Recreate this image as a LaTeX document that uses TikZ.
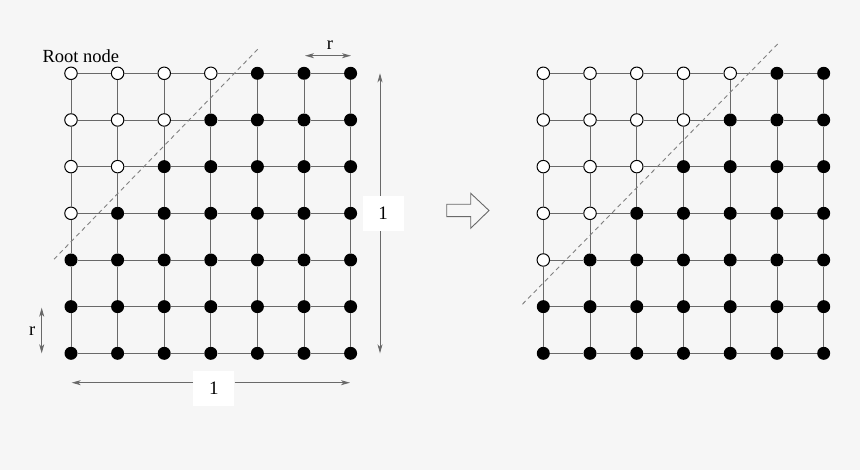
\documentclass[tikz,border=0pt]{standalone}
\usepackage{fontspec}
\setmainfont{Liberation Serif}
\usetikzlibrary{arrows.meta}
\definecolor{bg}{RGB}{246,246,246}
\definecolor{gline}{RGB}{105,105,105}
\tikzset{
  gridline/.style={draw=gline, line width=0.9pt},
  hollownode/.style={circle, draw=black, fill=white, line width=1pt, minimum size=12.5pt, inner sep=0pt},
  fullnode/.style={circle, fill=black, minimum size=13pt, inner sep=0pt},
  cutline/.style={draw=gray, line width=0.9pt, dash pattern=on 4.5pt off 3.5pt},
  dimline/.style={draw=gline, line width=0.9pt},
  dimtip/.style={-{Stealth[length=9pt,width=5pt,inset=2.5pt]}},
  dimboth/.style={{Stealth[length=9pt,width=5pt,inset=2.5pt]}-{Stealth[length=9pt,width=5pt,inset=2.5pt]}},
  labelbox/.style={fill=white, minimum width=41pt, minimum height=35pt, inner sep=0pt, font=\fontsize{19}{22}\selectfont},
  labeltext/.style={inner sep=0pt, font=\fontsize{18.5}{21}\selectfont},
  blockarrow/.style={draw=gline, fill=bg, line width=0.9pt, line join=miter}
}
\begin{document}
\begin{tikzpicture}[x=1pt,y=-1pt]
\fill[bg] (0,0) rectangle (860,470);
\useasboundingbox (0,0) rectangle (860,470);

% ---------- left grid ----------
\foreach \i in {0,...,6} {
  \foreach \j in {0,...,6} {
    \pgfmathtruncatemacro{\s}{\i+\j}
    \ifnum\s<4
      \node[hollownode] (L-\i-\j) at ({71+46.6*\j},{73.3+46.67*\i}) {};
    \else
      \node[fullnode] (L-\i-\j) at ({71+46.6*\j},{73.3+46.67*\i}) {};
    \fi
  }
}
% ---------- right grid ----------
\foreach \i in {0,...,6} {
  \foreach \j in {0,...,6} {
    \pgfmathtruncatemacro{\s}{\i+\j}
    \ifnum\s<5
      \node[hollownode] (R-\i-\j) at ({543.3+46.73*\j},{73.3+46.67*\i}) {};
    \else
      \node[fullnode] (R-\i-\j) at ({543.3+46.73*\j},{73.3+46.67*\i}) {};
    \fi
  }
}
% grid lines
\foreach \g in {L,R} {
  \foreach \i in {0,...,6} {
    \foreach \j [evaluate=\j as \k using int(\j+1)] in {0,...,5} {
      \draw[gridline] (\g-\i-\j) -- (\g-\i-\k);
      \draw[gridline] (\g-\j-\i) -- (\g-\k-\i);
    }
  }
}

% dashed cut lines
\coordinate (lc1) at (257.7,49.3);
\coordinate (lc2) at (53.3,260);
\draw[cutline] (lc1) -- (lc2);
\coordinate (rc1) at (777.7,44);
\coordinate (rc2) at (520,306.7);
\draw[cutline] (rc1) -- (rc2);

% Root node label
\node[labeltext, anchor=base west] (root) at (42.3,62.5) {Root node};

% top r dimension
\coordinate (tr1) at (305,55.7);
\coordinate (tr2) at (351,55.7);
\draw[dimline, dimboth] (tr1) -- (tr2);
\node[labeltext, anchor=base] (trl) at (330,50) {r};

% left r dimension
\coordinate (lr1) at (41.7,307.7);
\coordinate (lr2) at (41.7,353.3);
\draw[dimline, dimboth] (lr1) -- (lr2);
\node[labeltext, anchor=base] (lrl) at (32.3,336) {r};

% right vertical 1 dimension
\coordinate (v1) at (380,73.3);
\coordinate (v2) at (380,353.3);
\node[labelbox] (vbox) at (383,213.4) {1};
\draw[dimline, dimtip] (vbox.north -| v1) -- (v1);
\draw[dimline, dimtip] (vbox.south -| v2) -- (v2);

% bottom horizontal 1 dimension
\coordinate (h1) at (71.7,382.7);
\coordinate (h2) at (350,382.7);
\node[labelbox] (hbox) at (213.8,388.3) {1};
\draw[dimline, dimtip] (hbox.west |- h1) -- (h1);
\draw[dimline, dimtip] (hbox.east |- h2) -- (h2);

% block arrow
\draw[blockarrow] (446.7,204.3) -- (470.7,204.3) -- (470.7,193.3) -- (489,210.5)
  -- (470.7,228.3) -- (470.7,216.7) -- (446.7,216.7) -- cycle;
\end{tikzpicture}
\end{document}
